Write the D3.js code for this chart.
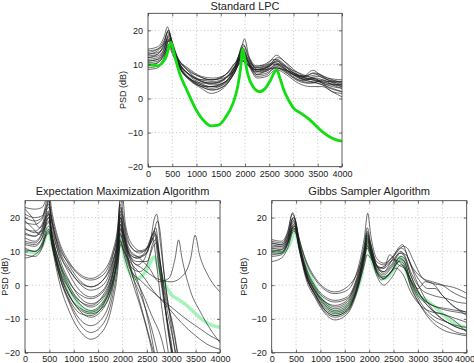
<!DOCTYPE html>
<html>
<head>
<meta charset="utf-8">
<script src="https://cdn.jsdelivr.net/npm/d3@7"></script>
<style>
  body { margin: 0; background: #fff; }
  svg { display: block; }
  text { font-family: "Liberation Sans", Arial, sans-serif; fill: #222; }
</style>
</head>
<body>
<svg id="chart" width="474" height="363"></svg>
<script>
// tick values (Hz / dB)
const xTicks = [0, 500, 1000, 1500, 2000, 2500, 3000, 3500, 4000];
const yTicks = [-20, -10, 0, 10, 20];

// reference spectrum (green), [Hz, dB]
const trueSpectrum = [[0,10],[100,9.8],[200,9.6],[300,10.5],[380,12.5],[440,15.5],[470,16.5],[500,15.5],[560,12],[650,7.5],[800,2.5],[1000,-3.5],[1150,-6.5],[1300,-8],[1450,-7.8],[1600,-5.5],[1750,-1.5],[1850,3.5],[1910,9],[1950,14.5],[1990,12],[2060,7],[2150,3.8],[2300,2],[2420,3],[2530,5.5],[2620,8],[2660,8.3],[2720,6],[2800,2.5],[2900,-0.5],[3000,-2.8],[3150,-4.3],[3300,-5.8],[3450,-7.8],[3600,-9.8],[3750,-11.3],[3900,-12.2],[4000,-12.5]];

// standard LPC estimates
const lpcCurves = [
  [[0,14.5],[200,15.2],[330,18],[400,21],[480,17.5],[600,12.5],[800,8.5],[1050,5.5],[1300,4.5],[1550,5.5],[1800,10],[1930,15],[1990,17.5],[2080,12.5],[2250,9.5],[2450,10],[2650,12.7],[2800,11],[3000,8],[3200,6.5],[3400,8.3],[3550,7],[3800,5.5],[4000,4.5]],
  [[0,13],[200,14],[330,16.5],[420,20],[500,16],[620,11.5],[800,8.5],[1050,6.5],[1300,5.5],[1550,6.5],[1800,10.5],[1950,14],[2050,12],[2250,9],[2450,9.5],[2650,11.5],[2850,9.5],[3050,7],[3300,6],[3500,6.5],[3700,5.5],[4000,5]],
  [[0,12],[200,12.5],[330,14.5],[430,18.5],[520,15],[650,10],[850,6],[1100,3.5],[1350,2.5],[1600,4],[1800,8],[1950,13],[2050,11],[2250,7.5],[2450,8],[2650,10],[2850,8],[3100,5.5],[3400,4.5],[3600,5.5],[3800,4],[4000,3]],
  [[0,11],[200,11.5],[330,13.5],[420,17],[520,14],[650,9],[850,5.5],[1100,3],[1300,1.5],[1550,3],[1800,8.5],[1960,14.5],[2060,11],[2250,7],[2450,8.5],[2650,11],[2850,8.5],[3100,6],[3350,5],[3600,4],[3800,2],[4000,0.5]],
  [[0,9.5],[200,10.5],[330,13],[440,17.5],[540,13.5],[680,8.5],[900,5.5],[1150,4.5],[1400,4.5],[1650,6.5],[1850,11],[1980,15.5],[2080,12],[2250,8.5],[2450,9],[2620,10.5],[2800,9],[3000,7],[3250,6],[3450,5.5],[3700,4.5],[4000,4]],
  [[0,8.5],[200,9],[330,11.5],[450,16],[550,13],[700,8],[900,5],[1150,3.5],[1400,3.5],[1650,5.5],[1850,10],[1970,13.5],[2080,10.5],[2250,7],[2450,7.5],[2650,9],[2850,7.5],[3100,5.5],[3350,5],[3600,4],[3800,3],[4000,2]],
  [[0,13.5],[200,14.5],[330,17],[410,19.5],[500,15.5],[620,11],[820,7.5],[1100,5],[1350,4],[1600,5],[1800,9.5],[1940,13],[2040,11.5],[2200,9.5],[2400,10],[2600,11.5],[2750,10.5],[2950,8],[3200,6.5],[3450,7.5],[3700,6],[4000,5.5]],
  [[0,12.5],[200,13],[330,15.5],[420,18],[510,15],[640,10.5],[850,7],[1100,5],[1350,4.5],[1600,6],[1800,9.5],[1950,12.5],[2050,11],[2250,8],[2450,8.5],[2680,10],[2900,8],[3150,6],[3400,5.5],[3700,4.5],[4000,3.5]],
  [[0,10.5],[200,11],[330,13],[430,16],[520,13.5],[650,10],[850,7],[1100,5.5],[1350,5.5],[1600,7],[1800,10.5],[1940,12],[2040,10.5],[2200,8.5],[2400,9],[2600,10],[2780,9],[3000,7],[3250,5.5],[3450,6],[3700,5],[4000,4.5]],
  [[0,14],[200,14.5],[330,16],[420,17.5],[500,15],[620,11.5],[820,9],[1100,6.5],[1350,6],[1600,7],[1800,9.5],[1930,11.5],[2040,10],[2200,9],[2400,9.5],[2600,10.5],[2750,10],[2950,8.5],[3200,7],[3400,6],[3700,5],[4000,5]],
  [[0,11.5],[200,12],[330,14.5],[430,19],[520,15],[650,9.5],[850,6],[1100,4],[1300,3.5],[1550,4.5],[1800,9],[1950,15],[2050,12],[2250,8],[2450,9],[2650,11],[2850,9],[3050,7],[3250,5.5],[3400,6],[3600,4.5],[3800,3.5],[4000,3]],
  [[0,10],[200,10.5],[330,12.5],[440,15.5],[530,13],[660,9.5],[870,7],[1100,5.5],[1350,5],[1600,6],[1800,8.5],[1950,11],[2050,10],[2200,8.5],[2400,8.5],[2620,9],[2800,8.5],[3000,7.5],[3250,6],[3500,5],[3750,4],[4000,4]],
  [[0,9],[200,9.5],[330,12],[430,15],[520,12.5],[650,9],[850,6],[1100,4],[1300,3],[1550,4],[1780,7.5],[1950,12],[2060,10],[2250,6],[2450,6.5],[2650,8.5],[2850,7],[3100,4.5],[3350,3.5],[3600,3.5],[3800,2],[4000,1.5]],
  [[0,12],[200,13],[330,16],[420,20],[500,16.5],[630,11],[830,7],[1080,4.5],[1300,3.5],[1550,4.5],[1800,9],[1960,16],[2060,12.5],[2250,8.5],[2480,9.5],[2680,12],[2850,10.5],[3050,8],[3250,6.5],[3400,7.5],[3550,6.5],[3800,5],[4000,4]],
  [[0,13],[200,13.5],[330,15],[410,17],[500,14.5],[620,11.5],[830,8.5],[1050,6.5],[1300,5.5],[1550,6],[1800,8.5],[1940,11],[2040,10],[2200,8],[2400,8],[2600,9],[2780,8.5],[3000,7],[3300,6.5],[3500,7],[3750,5],[4000,3.5]],
  [[0,11],[200,11.5],[340,14],[440,17],[530,13.5],[660,9],[870,5.5],[1100,3.5],[1300,2.5],[1550,3.5],[1800,8],[1960,13.5],[2060,10.5],[2250,6.5],[2450,7],[2640,9.5],[2820,8],[3050,5.5],[3300,4.5],[3500,5],[3750,3],[4000,2]]
];

// expectation maximization estimates
const emCurves = [
  [[0,23],[200,22.5],[350,23],[450,26],[490,27],[560,21],[700,13],[900,7],[1150,3],[1350,2],[1600,4],[1800,10],[1900,17],[1960,26],[2030,19],[2150,12],[2350,9.5],[2550,12],[2660,20],[2700,21],[2780,12],[2900,-2],[3050,-14],[3150,-22]],
  [[0,21],[200,20],[350,20.5],[450,24],[480,26],[540,21],[680,13],[900,6],[1150,1],[1350,-0.5],[1600,1.5],[1800,8.5],[1900,16],[1950,24],[2010,20],[2100,13],[2300,10],[2500,11],[2640,16],[2680,17],[2750,10],[2850,-3],[2950,-14],[3050,-22]],
  [[0,18.5],[200,18],[350,19.5],[440,23],[480,24],[540,19.5],[680,11],[900,3.5],[1150,-2],[1350,-3.5],[1600,-1.5],[1800,6],[1900,14],[1960,23],[2020,18],[2100,11],[2250,4],[2400,-3],[2550,-12],[2680,-22]],
  [[0,16.5],[200,16],[350,18],[450,22.5],[490,23],[550,18],[700,8.5],[900,1.5],[1150,-4],[1350,-5.5],[1600,-3.5],[1800,4],[1900,12.5],[1950,20],[2010,16],[2100,10.5],[2300,8],[2500,9.5],[2620,15],[2660,16],[2750,8],[2850,-4],[2950,-15],[3050,-22]],
  [[0,15],[200,14.5],[350,17],[440,21],[480,22],[540,16.5],[700,6.5],[900,-1],[1150,-6],[1350,-7.5],[1600,-5],[1800,3],[1900,12],[1960,22],[2020,16],[2150,6],[2300,-2],[2450,-10],[2600,-18],[2680,-22]],
  [[0,14],[200,13],[350,15.5],[450,20.5],[490,21],[550,15],[700,5],[900,-2.5],[1150,-8],[1350,-9.5],[1600,-7],[1800,1],[1900,10],[1950,18],[2010,15],[2100,10],[2300,7],[2500,7],[2650,12],[2700,12.5],[2780,6],[2900,-6],[3050,-17],[3120,-22]],
  [[0,12],[200,11.5],[350,14],[450,19],[490,20],[550,14],[700,3.5],[900,-4.5],[1150,-10.5],[1350,-12],[1600,-9.5],[1800,-1],[1900,8.5],[1960,17],[2030,12],[2200,3],[2400,-4],[2600,-13],[2750,-22]],
  [[0,10.5],[200,10],[350,12.5],[450,17],[490,17.5],[560,12],[720,2],[900,-5],[1150,-12],[1350,-14],[1600,-11.5],[1800,-3],[1900,6],[1960,15],[2030,11],[2200,5],[2350,4],[2500,6],[2640,13],[2680,13.5],[2760,5],[2900,-9],[3020,-22]],
  [[0,9],[200,8.5],[350,11],[450,16],[490,16.5],[560,11],[720,0],[900,-7.5],[1150,-14],[1350,-16],[1600,-13.5],[1800,-5],[1900,4],[1960,13],[2030,9],[2200,1],[2400,-8],[2550,-16],[2640,-22]],
  [[0,19],[150,17],[300,15],[400,17],[480,21],[540,17],[680,10],[900,4.5],[1150,0.5],[1350,-0.5],[1600,1.5],[1800,7],[1900,13],[1950,19],[2020,15],[2150,10],[2300,8.5],[2450,9],[2600,13],[2680,15],[2760,8],[2900,-4],[3050,-13],[3150,-22]],
  [[0,22.5],[150,20],[300,17],[420,20],[480,25],[540,20],[680,12],[900,6.5],[1150,2.5],[1350,1.5],[1600,3],[1800,9],[1900,15],[1950,21],[2020,16],[2150,10.5],[2350,8],[2550,5],[2750,1],[2950,2],[3080,8],[3150,13.4],[3220,8],[3400,-2],[3600,-8],[3800,-13],[4000,-17]],
  [[0,13],[200,12.5],[350,15],[450,18.5],[490,19],[560,13.5],[700,5],[900,-1],[1150,-5],[1350,-6],[1600,-3],[1800,3.5],[1900,10],[1950,15.5],[2010,13],[2150,8],[2400,5],[2700,2],[3000,1],[3250,3],[3400,8],[3490,14.8],[3580,9],[3750,3],[4000,-2]],
  [[0,11],[200,10],[350,12],[450,15.5],[490,16],[560,11.5],[700,3],[900,-4],[1150,-8.5],[1350,-9],[1600,-6],[1800,1.5],[1900,8],[1950,13.5],[2010,11],[2150,5],[2400,1],[2700,-3],[3000,-6.5],[3300,-10],[3600,-13],[3800,-15],[4000,-16.5]],
  [[0,17],[200,15.5],[350,16],[450,19.5],[490,20],[550,15],[690,7.5],[900,1],[1150,-3],[1350,-4],[1600,-2],[1800,5],[1900,12],[1955,18],[2020,14],[2150,9],[2300,8],[2450,9.5],[2620,15],[2650,15.5],[2730,7],[2850,-5],[3000,-17],[3050,-22]],
  [[0,20],[200,19],[350,20],[440,25],[470,27],[530,21],[670,12],[900,5],[1150,0],[1350,-1.5],[1600,0],[1800,7],[1900,14.5],[1950,25],[2000,26],[2060,18],[2200,12],[2400,10],[2600,13],[2720,19],[2760,17],[2850,4],[2980,-10],[3100,-22]],
  [[0,8],[200,9],[350,11.5],[450,15],[500,15.5],[570,11],[720,3],[900,-3],[1150,-7],[1350,-8],[1600,-5.5],[1800,1],[1900,7],[1960,12],[2030,10],[2200,6],[2400,3],[2650,-2],[2900,-6],[3200,-11],[3500,-15],[3800,-18],[4000,-19]],
  [[0,15.5],[200,14.5],[350,16.5],[440,20.5],[480,21.5],[540,16],[700,7],[900,0],[1150,-5],[1350,-6.5],[1600,-4],[1800,3],[1900,11.5],[1960,20],[2030,15],[2150,9],[2300,6],[2420,7],[2560,12],[2620,14],[2700,6],[2800,-6],[2920,-18],[2960,-22]],
  [[0,12.5],[200,12],[350,14],[450,18],[490,18.5],[560,13],[720,3.5],[900,-3],[1150,-7.5],[1350,-8.5],[1600,-6.5],[1800,0],[1900,9],[1960,16.5],[2030,12.5],[2200,4],[2400,-2],[2600,-9],[2800,-16],[2900,-22]]
];

// gibbs sampler estimates
const gibbsCurves = [
  [[0,13],[200,12.5],[330,15.5],[430,21.5],[470,20],[560,14],[700,7],[900,1.5],[1100,-1.5],[1300,-2.5],[1550,-1.5],[1750,4],[1900,14],[1970,21.3],[2030,15],[2150,8],[2300,6.5],[2500,8.5],[2700,11.5],[2780,11],[2900,7.5],[3100,2],[3300,0.5],[3500,0],[3800,-1],[4000,-2.4]],
  [[0,12.5],[200,12],[330,14.5],[440,20],[480,19],[560,13],[700,5.5],[900,-0.5],[1100,-3.5],[1300,-4.5],[1550,-3.5],[1750,2.5],[1900,12],[1960,17],[2030,12.5],[2150,6],[2300,4],[2450,6],[2650,10],[2720,9],[2850,4],[3050,-1],[3300,-3],[3600,-4],[3800,-5],[4000,-5.4]],
  [[0,11.5],[200,11.5],[330,14],[440,19],[480,18.5],[560,12.5],[700,4.5],[900,-1.5],[1100,-5],[1300,-6],[1550,-4.5],[1750,2],[1900,11],[1960,16],[2030,12],[2150,6],[2300,3.5],[2450,5.5],[2650,9.5],[2720,8.5],[2850,3],[3050,-3],[3300,-6],[3600,-7],[3800,-7.5],[4000,-8]],
  [[0,10],[200,10.5],[330,13.5],[450,18],[490,17],[570,11.5],[700,4],[900,-2],[1100,-6],[1300,-7.5],[1550,-6],[1750,0],[1900,10],[1960,15],[2030,11],[2150,5],[2300,3],[2450,5],[2650,8.5],[2720,8],[2850,3],[3050,-3],[3300,-7.5],[3600,-9],[3800,-10],[4000,-11]],
  [[0,9],[200,9.5],[330,12.5],[450,17],[490,16.5],[570,11],[700,3],[900,-3],[1100,-7.5],[1300,-9],[1550,-7.5],[1750,-1],[1900,8.5],[1960,13.5],[2030,10],[2150,4],[2300,2],[2450,4],[2650,7.5],[2720,7],[2850,1],[3050,-5],[3300,-9],[3600,-11],[3800,-12.5],[4000,-13.3]],
  [[0,7],[200,8],[330,11],[450,16],[490,15.5],[570,10],[700,2],[900,-4],[1100,-8.5],[1300,-10.3],[1550,-8.5],[1750,-2],[1900,7],[1960,11.5],[2030,9],[2150,3],[2300,0],[2450,2],[2650,6],[2720,5.5],[2850,-0.5],[3050,-6],[3300,-10],[3600,-12.5],[3800,-14],[4000,-14.5]],
  [[0,13.5],[200,13],[330,16],[420,21],[460,20.5],[550,14.5],[700,7.5],[900,2],[1100,-1],[1300,-2],[1550,-0.5],[1750,3.5],[1880,9],[1950,12],[2030,9.5],[2150,5.5],[2300,5],[2450,7],[2650,9.5],[2750,9],[2900,5],[3100,2],[3300,1],[3500,0],[3700,-2],[4000,-4]],
  [[0,12],[200,11.5],[330,14],[430,19.5],[470,18.5],[560,12],[700,4],[900,-2],[1100,-5],[1300,-6.5],[1550,-5],[1750,1],[1900,9.5],[1960,14],[2030,11],[2150,6],[2300,5],[2420,9],[2500,8],[2600,6],[2720,5],[2900,0],[3100,-4],[3300,-6],[3600,-7.5],[3800,-8],[4000,-8.5]],
  [[0,11],[200,11],[330,13],[450,17.5],[490,17],[570,11.5],[700,3.5],[900,-2.5],[1100,-6.5],[1300,-8],[1550,-6.5],[1750,-0.5],[1900,9],[1960,14.5],[2030,10.5],[2150,4.5],[2300,2.5],[2450,4],[2620,8],[2700,7.5],[2850,1.5],[3000,-3],[3200,-6],[3400,-9],[3600,-11],[3800,-12],[4000,-12.5]],
  [[0,12.5],[200,12],[330,15],[440,20],[480,19.5],[560,13],[700,5],[900,-1],[1100,-4],[1300,-5],[1550,-4],[1750,1.5],[1900,10],[1960,15.5],[2030,12],[2150,7],[2300,6],[2450,8],[2650,11],[2720,10.5],[2850,6],[3050,1],[3200,-1],[3350,-1],[3500,-3],[3700,-6],[4000,-8]],
  [[0,10.5],[200,10],[330,12.5],[440,17],[490,16],[570,10.5],[700,3],[900,-3],[1100,-7],[1300,-8.5],[1550,-7],[1750,-1],[1900,8],[1960,12.5],[2030,9.5],[2150,4],[2250,1.5],[2400,3],[2550,5],[2700,3],[2850,-2],[3050,-6],[3300,-8],[3500,-8.5],[3700,-10],[4000,-14]],
  [[0,8.5],[200,9],[330,12],[450,16.5],[490,16],[570,10.5],[700,3],[900,-3.5],[1100,-8],[1300,-9.5],[1550,-8],[1750,-1.5],[1900,6],[1960,9],[2030,8],[2150,5],[2300,4],[2450,7],[2600,11],[2680,12],[2800,8],[2950,2],[3150,-4],[3350,-8],[3600,-11],[3800,-12.5],[4000,-13.5]],
  [[0,11],[200,10.5],[330,13],[440,18.5],[480,18],[560,12],[700,4],[900,-2],[1100,-5.5],[1300,-7],[1550,-5.5],[1750,0.5],[1900,9],[1970,13],[2040,10],[2200,5],[2350,6],[2500,7.5],[2650,6.5],[2800,3],[3000,-1],[3150,1],[3300,0.5],[3500,-3],[3800,-7],[4000,-9]],
  [[0,9.5],[200,9.5],[330,12.5],[450,17.5],[490,17],[570,11],[700,3],[900,-3],[1100,-7.5],[1300,-9],[1550,-7.5],[1750,-1],[1900,8],[1950,11],[2020,9],[2150,4],[2300,2],[2450,4],[2620,7],[2700,6.5],[2850,0],[3050,-6],[3300,-11],[3550,-13.5],[3800,-14.5],[4000,-15]]
];

const svg = d3.select("#chart");

// panel layout (pixel boxes)
const panels = [
  {title: "Standard LPC", curves: lpcCurves, left: 148, right: 342, top: 13.3, bottom: 166.7, titleY: 9.5, labelX: 126, pad: 4,
   green: "#11dd11", greenWidth: 2.8, greenOpacity: 1},
  {title: "Expectation Maximization Algorithm", curves: emCurves, left: 25, right: 220, top: 200.7, bottom: 352.7, titleY: 195, labelX: 7.5, pad: 2.5,
   green: "#8ff0a8", greenWidth: 3.5, greenOpacity: 0.8},
  {title: "Gibbs Sampler Algorithm", curves: gibbsCurves, left: 271.7, right: 466.7, top: 200.7, bottom: 352.7, titleY: 195, labelX: 247, pad: 2.5,
   green: "#8ff0a8", greenWidth: 3.5, greenOpacity: 0.8}
];

panels.forEach(function(p, i) {
  let x = d3.scaleLinear().domain([0, 4000]).range([p.left, p.right]);
  let y = d3.scaleLinear().domain([-20, 25]).range([p.bottom, p.top]);
  let g = svg.append("g");

  svg.append("clipPath").attr("id", "clip" + i)
     .append("rect")
     .attr("x", p.left).attr("y", p.top)
     .attr("width", p.right - p.left).attr("height", p.bottom - p.top);

  // dotted grid
  g.append("g").selectAll("line").data(xTicks.slice(1, -1)).join("line")
   .attr("x1", d => x(d)).attr("x2", d => x(d))
   .attr("y1", p.top).attr("y2", p.bottom)
   .attr("stroke", "#b8b8b8").attr("stroke-width", 0.8).attr("stroke-dasharray", "1,2.5");
  g.append("g").selectAll("line").data(yTicks.slice(1)).join("line")
   .attr("x1", p.left).attr("x2", p.right)
   .attr("y1", d => y(d)).attr("y2", d => y(d))
   .attr("stroke", "#b8b8b8").attr("stroke-width", 0.8).attr("stroke-dasharray", "1,2.5");

  let line = d3.line()
               .x(d => x(d[0]))
               .y(d => y(d[1]))
               .curve(d3.curveMonotoneX);

  let plot = g.append("g").attr("clip-path", "url(#clip" + i + ")");

  // bottom panels: pale reference under the estimates
  if (i > 0) {
    plot.append("path").datum(trueSpectrum)
        .attr("d", line).attr("fill", "none")
        .attr("stroke", p.green).attr("stroke-width", p.greenWidth)
        .attr("stroke-opacity", p.greenOpacity);
  }

  plot.selectAll(".est").data(p.curves).join("path")
      .attr("class", "est")
      .attr("d", line)
      .attr("fill", "none")
      .attr("stroke", "#1c1c1c")
      .attr("stroke-width", 0.75)
      .attr("stroke-opacity", 0.85);

  if (i === 0) {
    plot.append("path").datum(trueSpectrum)
        .attr("d", line).attr("fill", "none")
        .attr("stroke", p.green).attr("stroke-width", p.greenWidth);
  }

  // axes with inward ticks
  let xa = g.append("g").attr("transform", `translate(0,${p.bottom})`)
            .call(d3.axisBottom(x).tickValues(xTicks).tickSize(-3).tickPadding(p.pad).tickFormat(d3.format("d")));
  let ya = g.append("g").attr("transform", `translate(${p.left},0)`)
            .call(d3.axisLeft(y).tickValues(yTicks).tickSize(-3).tickPadding(5));
  let xt = g.append("g").attr("transform", `translate(0,${p.top})`)
            .call(d3.axisTop(x).tickValues(xTicks).tickSize(-3).tickFormat(""));
  let yr = g.append("g").attr("transform", `translate(${p.right},0)`)
            .call(d3.axisRight(y).tickValues(yTicks).tickSize(-3).tickFormat(""));
  [xa, ya, xt, yr].forEach(function(a) {
    a.select(".domain").remove();
    a.selectAll("line").attr("stroke", "#333").attr("stroke-width", 0.7);
    a.selectAll("text").attr("font-size", 9).attr("fill", "#222")
     .attr("font-family", '"Liberation Sans", Arial, sans-serif');
  });

  // keep the last label of the right-hand panel inside the page
  if (p.right + 9 > 474) {
    xa.selectAll(".tick:last-of-type text").attr("dx", -(p.right + 9.5 - 474));
  }

  g.append("rect")
   .attr("x", p.left).attr("y", p.top)
   .attr("width", p.right - p.left).attr("height", p.bottom - p.top)
   .attr("fill", "none").attr("stroke", "#333").attr("stroke-width", 0.8);

  g.append("text")
   .attr("x", (p.left + p.right) / 2).attr("y", p.titleY)
   .attr("text-anchor", "middle").attr("font-size", 11)
   .text(p.title);

  g.append("text")
   .attr("transform", `translate(${p.labelX},${(p.top + p.bottom) / 2}) rotate(-90)`)
   .attr("text-anchor", "middle").attr("font-size", 9)
   .text("PSD (dB)");
});
</script>
</body>
</html>
